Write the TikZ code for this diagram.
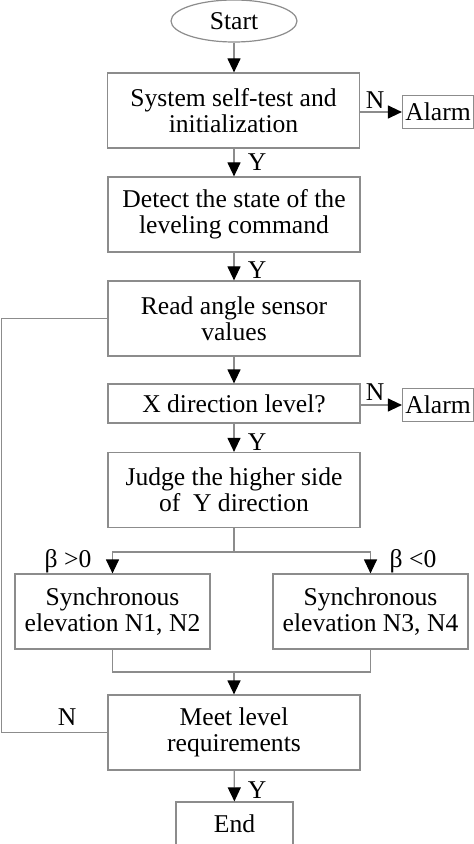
\documentclass[tikz,border=0pt]{standalone}
\usepackage{fontspec}
\setmainfont{Liberation Serif}
\usetikzlibrary{shapes.geometric, arrows.meta}

\begin{document}
\begin{tikzpicture}[
      x=0.5pt, y=-0.5pt,
      every node/.style = {font=\fontsize{12.8}{13}\selectfont, align=center, inner sep=1pt},
      box/.style = {shape=rectangle, draw=black!45, line width=0.6pt,
        minimum width=126pt, minimum height=37.5pt},
      smallbox/.style = {box, minimum width=35.5pt, minimum height=16.5pt},
      term/.style = {shape=ellipse, draw=black!45, line width=0.6pt,
        minimum width=63pt, minimum height=21pt},
      line/.style = {draw=black!45, line width=0.6pt},
      arr/.style = {line, -{Triangle[length=7pt, width=6.5pt, color=black]}}
    ]
      \useasboundingbox (0,0) rectangle (474,844);

      % main column
      \node[term] (start) at (234,21) {Start};
      \node[box] (sys) at (233.5,110.5) {System self-test and\\initialization};
      \node[smallbox] (alarmA) at (438,112) {Alarm};
      \node[box] (detect) at (234,214.5) {Detect the state of the\\leveling command};
      \node[box] (read) at (234,318.5) {Read angle sensor\\values};
      \node[box, minimum height=19.5pt] (xdir) at (234,403.5) {X direction level?};
      \node[smallbox] (alarmB) at (438,405) {Alarm};
      \node[box] (judge) at (234,490) {Judge the higher side\\of~ Y direction};
      \node[box, minimum width=97.5pt] (synA) at (112.5,611.5) {Synchronous\\elevation N1, N2};
      \node[box, minimum width=97.5pt] (synB) at (370.5,611.5) {Synchronous\\elevation N3, N4};
      \node[box] (meet) at (234,732.5) {Meet level\\requirements};
      \node[box, minimum width=58.5pt, minimum height=21.5pt] (stop) at (234.5,823.5) {End};

      % branch points
      \coordinate (split) at (234,552);
      \coordinate (join) at (234,672);
      \coordinate (back) at (1.5,732.5);

      \draw[arr] (start) -- (start |- sys.north);
      \draw[arr] (sys.east |- alarmA) -- (alarmA);
      \draw[arr] (sys.south -| detect) -- (detect);
      \draw[arr] (detect) -- (read);
      \draw[arr] (read) -- (xdir);
      \draw[arr] (xdir.east |- alarmB) -- (alarmB);
      \draw[arr] (xdir) -- (judge);
      \draw[line] (judge) -- (split);
      \draw[arr] (split) -| (synA);
      \draw[arr] (split) -| (synB);
      \draw[line] (synA) |- (join);
      \draw[line] (synB) |- (join);
      \draw[arr] (join) -- (meet);
      \draw[arr] (meet) -- (stop);
      \draw[line] (meet.west) -- (back) |- (read.west);

      % labels
      \node (nA) at (375,100) {N};
      \node (yA) at (257,162) {Y};
      \node (yB) at (257,270) {Y};
      \node (nB) at (375,392) {N};
      \node (yC) at (257,442) {Y};
      \node (pos) at (68,561) {β >0};
      \node (neg) at (413,561) {β <0};
      \node (nC) at (67,717) {N};
      \node (yD) at (257,790) {Y};
    \end{tikzpicture}
\end{document}
